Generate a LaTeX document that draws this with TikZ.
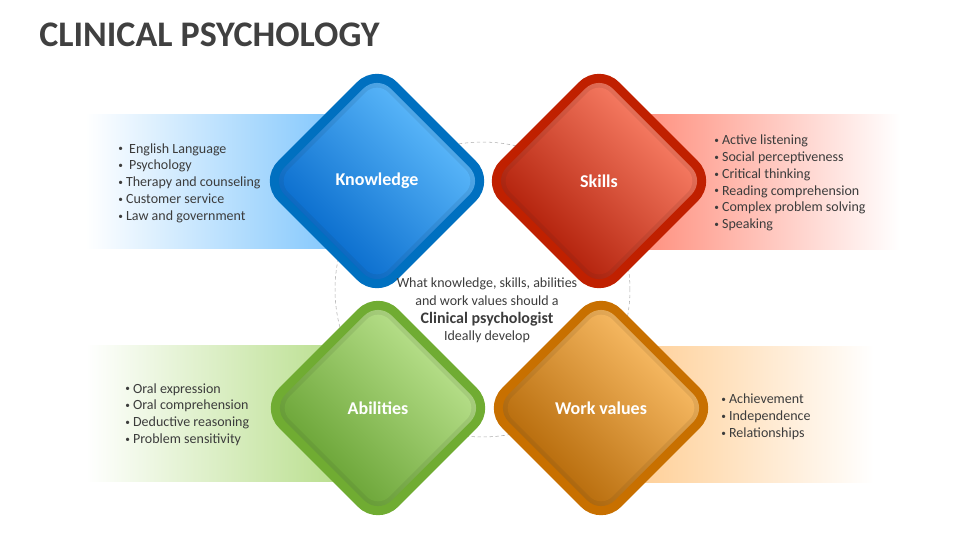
\documentclass[tikz,border=0pt]{standalone}
\usepackage{fontspec}
\setmainfont{Carlito}
\usetikzlibrary{calc}

\definecolor{titlegray}{RGB}{64,64,64}
\definecolor{txtgray}{RGB}{60,60,60}
\definecolor{knBorder}{RGB}{0,112,192}
\definecolor{knDark}{RGB}{0,100,200}
\definecolor{knMid}{RGB}{20,150,245}
\definecolor{knLight}{RGB}{100,192,255}
\definecolor{knBand}{RGB}{110,190,252}
\definecolor{skBorder}{RGB}{192,32,0}
\definecolor{skDark}{RGB}{170,22,0}
\definecolor{skMid}{RGB}{255,42,8}
\definecolor{skLight}{RGB}{255,135,110}
\definecolor{skBand}{RGB}{255,125,105}
\definecolor{abBorder}{RGB}{112,172,50}
\definecolor{abDark}{RGB}{98,158,45}
\definecolor{abMid}{RGB}{140,200,80}
\definecolor{abLight}{RGB}{192,230,148}
\definecolor{abBand}{RGB}{175,218,125}
\definecolor{wvBorder}{RGB}{200,112,0}
\definecolor{wvDark}{RGB}{175,98,0}
\definecolor{wvMid}{RGB}{255,150,20}
\definecolor{wvLight}{RGB}{255,195,110}
\definecolor{wvBand}{RGB}{255,200,135}

\newcommand{\lbul}{\raisebox{0.8pt}{\fontsize{7}{8}\selectfont\textbullet}\ }

\begin{document}
\begin{tikzpicture}[x=0.75pt, y=-0.75pt,
tile/.style={rotate=45, minimum size=126pt, rounded corners=21pt, inner sep=0pt},
face/.style={rotate=45, minimum size=112.5pt, rounded corners=14.5pt, inner sep=0pt},
core/.style={rotate=45, minimum size=106pt, rounded corners=12pt, inner sep=0pt},
tiletext/.style={text=white, font=\fontsize{13.5}{16}\selectfont\bfseries},
list/.style={anchor=west, inner sep=0pt, align=left, text=txtgray,
  font=\fontsize{10.5}{12.6}\selectfont}
]
\useasboundingbox (0,0) rectangle (960,540);

\coordinate (K) at (377,181);
\coordinate (S) at (599,181);
\coordinate (A) at (378,408);
\coordinate (W) at (601,408);
\coordinate (O) at (482.5,289.5);

\shade[left color=white, right color=knBand] (86,114) rectangle (377,248);
\shade[left color=skBand, right color=white] (599,114) rectangle (900,249);
\shade[left color=white, right color=abBand] (86,345) rectangle (378,481);
\shade[left color=wvBand, right color=white] (601,346) rectangle (874,482);

\draw[gray!65, dash pattern=on 2.5pt off 2pt] (O) circle (110.6pt);

\node[tile, fill=knBorder] (kn) at (K) {};
\node[face, top color=knLight!93!black, middle color=knMid!93!black, bottom color=knDark!93!black, shading angle=-45] (kn-f) at (K) {};
\node[core, top color=knLight, middle color=knMid, bottom color=knDark, shading angle=-45] (kn-c) at (K) {};
\node[tile, fill=skBorder] (sk) at (S) {};
\node[face, top color=skLight!93!black, middle color=skMid!93!black, bottom color=skDark!93!black, shading angle=-45] (sk-f) at (S) {};
\node[core, top color=skLight, middle color=skMid, bottom color=skDark, shading angle=-45] (sk-c) at (S) {};
\node[tile, fill=abBorder] (ab) at (A) {};
\node[face, top color=abLight!93!black, middle color=abMid!93!black, bottom color=abDark!93!black, shading angle=-45] (ab-f) at (A) {};
\node[core, top color=abLight, middle color=abMid, bottom color=abDark, shading angle=-45] (ab-c) at (A) {};
\node[tile, fill=wvBorder] (wv) at (W) {};
\node[face, top color=wvLight!93!black, middle color=wvMid!93!black, bottom color=wvDark!93!black, shading angle=-45] (wv-f) at (W) {};
\node[core, top color=wvLight, middle color=wvMid, bottom color=wvDark, shading angle=-45] (wv-c) at (W) {};

\node[tiletext] (kn-t) at (kn.center) {Knowledge};
\node[tiletext] (sk-t) at (sk.center) {Skills};
\node[tiletext] (ab-t) at (ab.center) {Abilities};
\node[tiletext] (wv-t) at (wv.center) {Work values};

\node[anchor=west, inner sep=0pt, text=titlegray, font=\fontsize{27}{30}\selectfont\bfseries]
  (ttl) at (39,35) {CLINICAL PSYCHOLOGY};

\node[align=center, text=txtgray, font=\fontsize{10.5}{13}\selectfont] (q) at (487,310.5)
  {What knowledge, skills, abilities\\[0.3pt] and work values should a\\[0.3pt]
   {\fontsize{12}{13}\selectfont\bfseries Clinical psychologist}\\[0.3pt] Ideally develop};

\node[list] (kn-l) at (118,183) {\lbul\ English Language\\ \lbul\ Psychology\\
  \lbul Therapy and counseling\\ \lbul Customer service\\ \lbul Law and government};
\node[list] (sk-l) at (714,183) {\lbul Active listening\\ \lbul Social perceptiveness\\
  \lbul Critical thinking\\ \lbul Reading comprehension\\
  \lbul Complex problem solving\\ \lbul Speaking};
\node[list] (ab-l) at (125,414.5) {\lbul Oral expression\\ \lbul Oral comprehension\\
  \lbul Deductive reasoning\\ \lbul Problem sensitivity};
\node[list] (wv-l) at (721,417) {\lbul Achievement\\ \lbul Independence\\
  \lbul Relationships};
\end{tikzpicture}
\end{document}
